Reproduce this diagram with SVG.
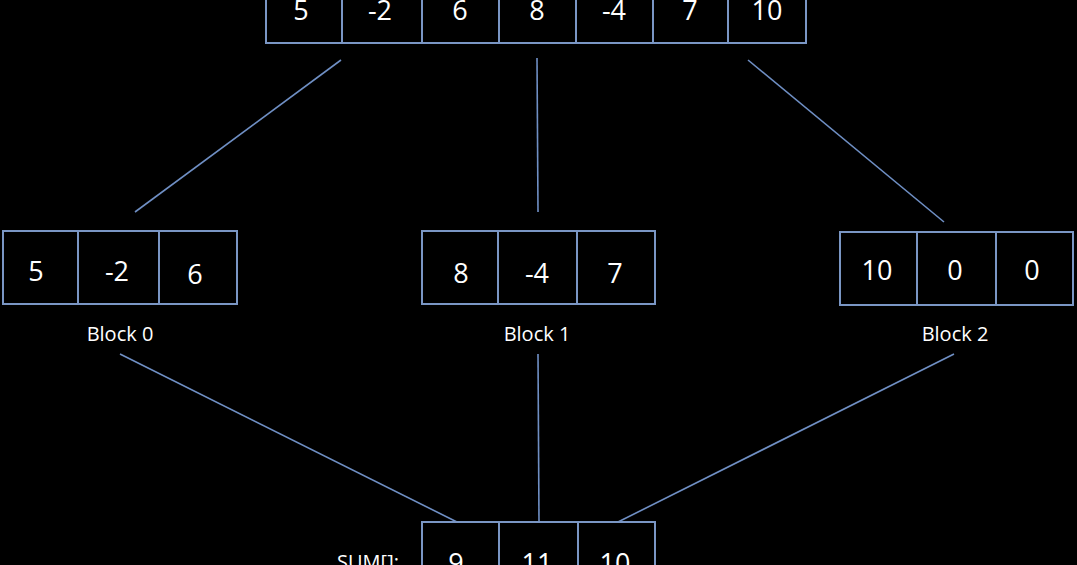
<svg xmlns="http://www.w3.org/2000/svg" width="1077" height="565" viewBox="0 0 1077 565">
<style>
.cell{fill:#000;stroke:#7a96c4;stroke-width:2}
.num{fill:#fff;font-family:"Open Sans","Liberation Sans",sans-serif;font-size:27px;text-anchor:middle}
.lbl{fill:#fff;font-family:"Open Sans","Liberation Sans",sans-serif;font-size:20px;text-anchor:middle}
.conn line{stroke:#6f8fc4;stroke-width:1.6}
</style>
<rect width="1077" height="565" fill="#000"/>
<g id="connectors" class="conn">
<line x1="341" y1="60" x2="135" y2="212"/>
<line x1="537" y1="58" x2="538" y2="212"/>
<line x1="748" y1="60" x2="944" y2="222"/>
<line x1="120" y1="354" x2="461" y2="524"/>
<line x1="538" y1="354" x2="539" y2="522"/>
<line x1="954" y1="354" x2="618" y2="522"/>
</g>
<g id="input-array">
<rect class="cell" x="266" y="-32" width="76" height="75"/>
<rect class="cell" x="342" y="-32" width="80" height="75"/>
<rect class="cell" x="422" y="-32" width="77" height="75"/>
<rect class="cell" x="499" y="-32" width="77" height="75"/>
<rect class="cell" x="576" y="-32" width="77" height="75"/>
<rect class="cell" x="653" y="-32" width="75" height="75"/>
<rect class="cell" x="728" y="-32" width="78" height="75"/>
<text class="num" x="301" y="20">5</text>
<text class="num" x="380" y="20">-2</text>
<text class="num" x="460" y="20">6</text>
<text class="num" x="537" y="20">8</text>
<text class="num" x="614" y="20">-4</text>
<text class="num" x="690" y="20">7</text>
<text class="num" x="767" y="20">10</text>
</g>
<g id="block0">
<rect class="cell" x="3" y="231" width="75" height="73"/>
<rect class="cell" x="78" y="231" width="81" height="73"/>
<rect class="cell" x="159" y="231" width="78" height="73"/>
<text class="num" x="36" y="281">5</text>
<text class="num" x="117" y="281">-2</text>
<text class="num" x="195" y="284">6</text>
<text class="lbl" x="120" y="341">Block 0</text>
</g>
<g id="block1">
<rect class="cell" x="422" y="231" width="76" height="73"/>
<rect class="cell" x="498" y="231" width="79" height="73"/>
<rect class="cell" x="577" y="231" width="78" height="73"/>
<text class="num" x="461" y="283">8</text>
<text class="num" x="537" y="283">-4</text>
<text class="num" x="615" y="283">7</text>
<text class="lbl" x="537" y="341">Block 1</text>
</g>
<g id="block2">
<rect class="cell" x="840" y="232" width="77" height="73"/>
<rect class="cell" x="917" y="232" width="79" height="73"/>
<rect class="cell" x="996" y="232" width="77" height="73"/>
<text class="num" x="877" y="280">10</text>
<text class="num" x="955" y="280">0</text>
<text class="num" x="1032" y="280">0</text>
<text class="lbl" x="955" y="341">Block 2</text>
</g>
<g id="sum">
<rect class="cell" x="422" y="522" width="77" height="73"/>
<rect class="cell" x="499" y="522" width="79" height="73"/>
<rect class="cell" x="578" y="522" width="77" height="73"/>
<text class="num" x="456" y="573">9</text>
<text class="num" x="537" y="573">11</text>
<text class="num" x="615" y="573">10</text>
<text class="lbl" x="368" y="569">SUM[]:</text>
</g>
</svg>
